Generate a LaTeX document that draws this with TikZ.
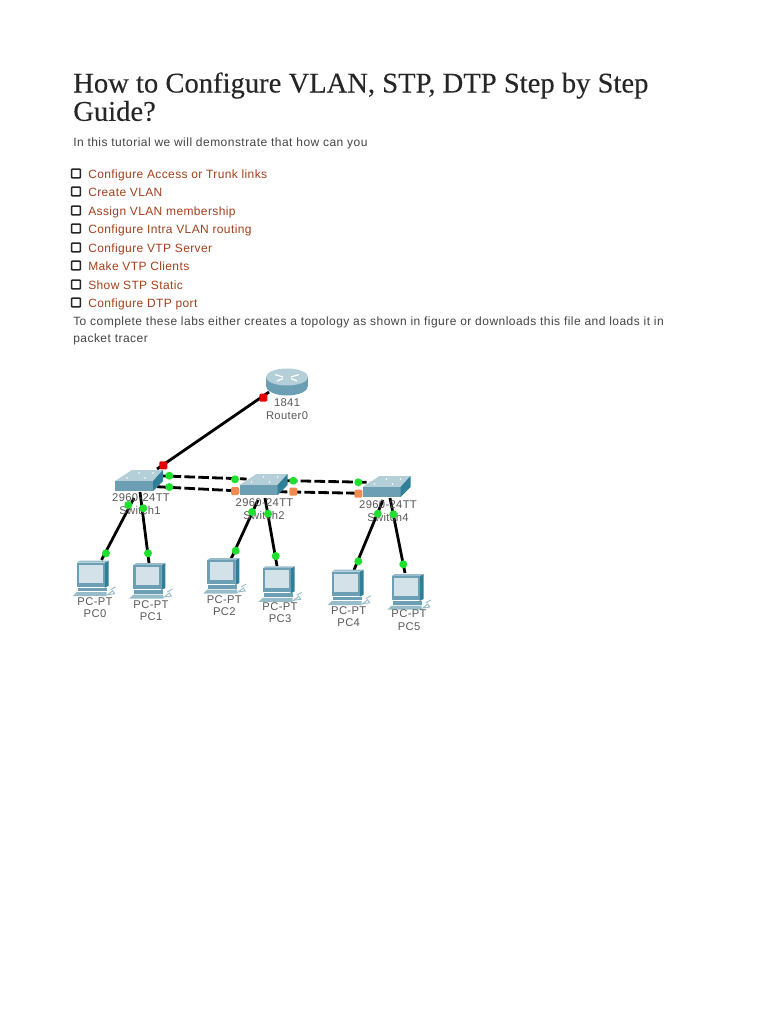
\documentclass[tikz,border=0pt]{standalone}
\usepackage{fontspec}
\setmainfont[LetterSpace=3.2]{Liberation Sans}
\newfontfamily\parafont[LetterSpace=3.9]{Liberation Sans}
\newfontfamily\titlefont[FakeBold=0.15]{Liberation Serif}
\definecolor{bodygrey}{HTML}{444444}
\definecolor{linkbrown}{HTML}{A2401C}
\definecolor{icondark}{HTML}{2F7F99}
\definecolor{iconmid}{HTML}{6C9FB3}
\definecolor{iconlight}{HTML}{B4CFD8}
\definecolor{screenblue}{HTML}{D3E2E9}
\definecolor{lightgreen}{HTML}{1FE02F}
\definecolor{lightorange}{HTML}{F08A50}
\tikzset{
  titletext/.style={anchor=base west,inner sep=0pt,font=\titlefont\fontsize{21.45}{24}\selectfont,text=black!85},
  bodytext/.style={anchor=base west,inner sep=0pt,font=\parafont\fontsize{9}{11}\selectfont,text=bodygrey},
  listtext/.style={anchor=base west,inner sep=0pt,font=\fontsize{9}{11}\selectfont,text=linkbrown},
  tickbox/.style={draw=black!85,line width=1.2pt,rounded corners=0.6pt,minimum size=6.6pt,inner sep=0pt},
  devtext/.style={inner sep=0pt,font=\fontsize{8.4}{10}\selectfont,text=black!65},
  cable/.style={line width=2.1pt,black},
  trunk/.style={cable,dash pattern=on 8pt off 2.4pt},
  portlight/.style={minimum size=6pt,inner sep=0pt},
  greenlight/.style={portlight,circle,fill=lightgreen},
  orangelight/.style={portlight,rounded corners=1pt,fill=lightorange},
  redlight/.style={portlight,rounded corners=1pt,fill=red!90!black},
  pics/switchicon/.style={code={
    \fill[iconlight] (0,0) -- (17,-11) -- (48,-11) -- (38,0) -- cycle;
    \fill[iconmid] (0,0) rectangle (38,10);
    \fill[icondark] (38,0) -- (48,-11) -- (48,0) -- (38,10) -- cycle;
    \fill[white] (12,-3) circle (0.8) (30,-3) circle (0.8) (24,-8) circle (0.8) (38,-8) circle (0.8);
  }},
  pics/pcicon/.style={code={
    \fill[icondark] (28,0) -- (32,-2) -- (32,23) -- (28,25) -- cycle;
    \fill[iconmid!70!white] (0,0) -- (3,-2) -- (32,-2) -- (28,0) -- cycle;
    \fill[iconmid] (0,0) rectangle (28,24);
    \fill[screenblue] (2.5,2) rectangle (26,20);
    \fill[iconmid] (1,25) rectangle (30,28.5);
    \fill[iconlight!60!iconmid] (-4,33.5) -- (0,29.5) -- (30,29.5) -- (30,33.5) -- cycle;
    \draw[iconmid!70!white,line width=0.7pt] (34,27) -- (39,24) (31,32) -- (38,31) -- (36,28) -- cycle;
  }}
}
\begin{document}
\begin{tikzpicture}[x=0.75pt,y=-0.75pt]
  \useasboundingbox[fill=white] (0,0) rectangle (768,1024);

  % Ueberschrift und Text
  \node[titletext] (title1) at (73,92.5) {How to Configure VLAN, STP, DTP Step by Step};
  \node[titletext] (title2) at (73,120.8) {Guide?};
  \node[bodytext] (intro) at (73,146) {In this tutorial we will demonstrate that how can you};

  % Liste
  \foreach \i/\ypos/\txt in {1/178/Configure Access or Trunk links,2/196/Create VLAN,3/215/Assign VLAN membership,4/233/Configure Intra VLAN routing,5/252/Configure VTP Server,6/270/Make VTP Clients,7/289/Show STP Static,8/307/Configure DTP port}{
    \node[listtext] (item\i) at (88,\ypos) {\txt};
    \node[tickbox] (box\i) at (76,\ypos-4.5) {};
  }
  \node[bodytext] (para1) at (73,325) {To complete these labs either creates a topology as shown in figure or downloads this file and loads it in};
  \node[bodytext] (para2) at (73,342) {packet tracer};

  % Kabelenden
  \coordinate (r0end) at (269,392);
  \coordinate (s1up) at (157,469);
  \coordinate (s1a) at (134,498);
  \coordinate (s1b) at (140,492);
  \coordinate (s2a) at (258,500);
  \coordinate (s2b) at (265,498);
  \coordinate (s4a) at (383,500);
  \coordinate (s4b) at (390,498);
  \coordinate (p0end) at (101.5,560);
  \coordinate (p1end) at (149,563);
  \coordinate (p2end) at (231,559);
  \coordinate (p3end) at (277,566);
  \coordinate (p4end) at (354,570);
  \coordinate (p5end) at (405,573);
  \coordinate (t1a) at (156.7,475.7);
  \coordinate (t1b) at (156.7,486.7);
  \coordinate (t2a) at (246.7,479);
  \coordinate (t2b) at (240,491);
  \coordinate (t3a) at (286.7,480.7);
  \coordinate (t3b) at (276.7,491.7);
  \coordinate (t4a) at (370,482.3);
  \coordinate (t4b) at (361.7,493.3);

  % Kabel
  \draw[cable] (r0end) -- (s1up);
  \draw[cable] (s1a) -- (p0end);
  \draw[cable] (s1b) -- (p1end);
  \draw[cable] (s2a) -- (p2end);
  \draw[cable] (s2b) -- (p3end);
  \draw[cable] (s4a) -- (p4end);
  \draw[cable] (s4b) -- (p5end);
  \draw[trunk] (t1a) -- (t2a);
  \draw[trunk] (t1b) -- (t2b);
  \draw[trunk] (t3a) -- (t4a);
  \draw[trunk] (t3b) -- (t4b);

  % Router
  \fill[iconmid] (287,386) ellipse (21 and 9.5);
  \fill[iconmid] (266,377) rectangle (308,386);
  \fill[iconlight] (287,377) ellipse (21 and 8.5);
  \draw[white,line width=0.9pt] (275,374.5) -- (283,377) (299,374.5) -- (291,377) (277,381) -- (283,378.5) (297,381) -- (291,378.5);
  \node[devtext] (Router0type) at (287,403) {1841};
  \node[devtext] (Router0) at (287,415.5) {Router0};

  % Switches
  \pic at (115,481) {switchicon};
  \pic at (239.5,485) {switchicon};
  \pic at (362.5,487) {switchicon};
  \node[devtext] (Switch1type) at (141,497.5) {2960-24TT};
  \node[devtext] (Switch1) at (140,510) {Switch1};
  \node[devtext] (Switch2type) at (264.5,502.5) {2960-24TT};
  \node[devtext] (Switch2) at (264,515.5) {Switch2};
  \node[devtext] (Switch4type) at (388,504.5) {2960-24TT};
  \node[devtext] (Switch4) at (388,517.5) {Switch4};

  % PCs
  \foreach \pcx/\pcy/\lx/\ly/\n in {76.7/562.7/95/601.7/0,133.3/565/151/604.3/1,207.3/560/224.3/599.3/2,262.7/568.3/280/606.7/3,331.7/571.7/348.7/610.7/4,391.7/576/409/614/5}{
    \pic at (\pcx,\pcy) {pcicon};
    \node[devtext] (PC\n type) at (\lx,\ly) {PC-PT};
    \node[devtext] (PC\n) at (\lx,\ly+12.3) {PC\n};
  }

  % Lichter
  \node[redlight] (lr0) at (263.3,397.7) {};
  \node[redlight] (ls1) at (163.3,465.3) {};
  \foreach \n/\lx/\ly in {a/128.3/505,b/143.3/508.3,c/106/553.3,d/148/553.3,e/252/512,f/268/513.7,g/235.7/550.7,h/275.7/556,i/377.7/513.7,j/393.3/514.3,k/358.3/561.3,l/403.3/564.3,m/169.3/475.7,n/169.3/487,o/235/479.3,p/293.3/480.7,q/358.3/482.3}{
    \node[greenlight] (g\n) at (\lx,\ly) {};
  }
  \foreach \n/\lx/\ly in {a/235/491,b/293.3/491.7,c/358.3/493.7}{
    \node[orangelight] (o\n) at (\lx,\ly) {};
  }
\end{tikzpicture}
\end{document}
